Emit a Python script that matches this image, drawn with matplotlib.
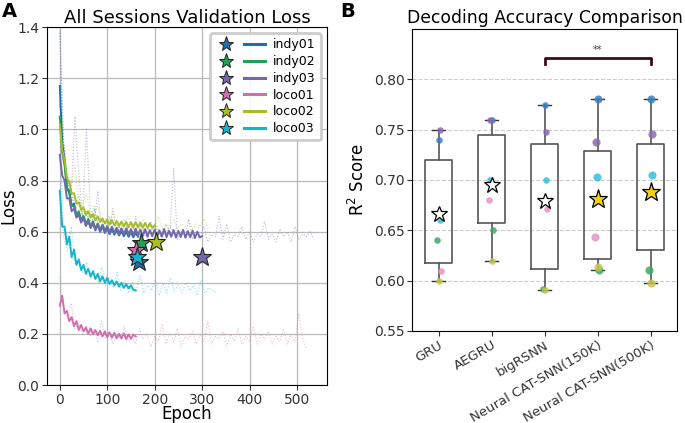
import numpy as np
import matplotlib
matplotlib.use("Agg")
import matplotlib.pyplot as plt
from matplotlib.lines import Line2D
from matplotlib.legend_handler import HandlerTuple

# ---------------- panel A data ----------------
sessions = ["indy01", "indy02", "indy03", "loco01", "loco02", "loco03"]
session_colors = ["#1f6fb0", "#22a055", "#7467ae", "#d06fad", "#a9bb25", "#14b5cc"]

# smoothed curves (epoch 0 .. best epoch, evenly spaced samples)
best_epoch = [165, 170, 300, 160, 200, 160]
indy01_fit = [1.17, 0.95, 0.88, 0.77, 0.76, 0.70, 0.71, 0.66, 0.675, 0.64, 0.66, 0.625,
              0.645, 0.615, 0.635, 0.605, 0.628, 0.600, 0.62, 0.595, 0.615, 0.59, 0.61,
              0.588, 0.605, 0.585, 0.602, 0.582, 0.60, 0.58, 0.598, 0.578, 0.595, 0.58]
indy02_fit = [1.05, 0.91, 0.86, 0.77, 0.75, 0.70, 0.70, 0.665, 0.68, 0.645, 0.66, 0.63,
              0.65, 0.62, 0.64, 0.612, 0.632, 0.607, 0.625, 0.603, 0.62, 0.60, 0.617,
              0.597, 0.613, 0.595, 0.61, 0.592, 0.608, 0.59, 0.605, 0.59, 0.603, 0.588, 0.60]
indy03_fit = [0.90, 0.82, 0.80, 0.73, 0.73, 0.68, 0.69, 0.655, 0.665, 0.635, 0.655, 0.622,
              0.642, 0.615, 0.635, 0.608, 0.628, 0.600, 0.625, 0.598, 0.62, 0.595, 0.618,
              0.592, 0.615, 0.59, 0.612, 0.588, 0.613, 0.586, 0.61, 0.585, 0.612, 0.584,
              0.608, 0.583, 0.61, 0.58, 0.606, 0.582, 0.608, 0.579, 0.605, 0.581, 0.61,
              0.578, 0.604, 0.58, 0.606, 0.577, 0.603, 0.579, 0.607, 0.576, 0.602, 0.578,
              0.604, 0.575, 0.60, 0.577, 0.582]
loco01_fit = [0.31, 0.35, 0.28, 0.29, 0.25, 0.265, 0.23, 0.25, 0.215, 0.235, 0.21, 0.225,
              0.20, 0.222, 0.198, 0.215, 0.195, 0.212, 0.19, 0.21, 0.188, 0.205, 0.185,
              0.204, 0.183, 0.20, 0.182, 0.202, 0.18, 0.198, 0.181, 0.197, 0.19]
loco02_fit = [1.02, 0.92, 0.88, 0.81, 0.795, 0.75, 0.75, 0.71, 0.715, 0.685, 0.695, 0.665,
              0.68, 0.655, 0.668, 0.645, 0.66, 0.638, 0.652, 0.632, 0.648, 0.628, 0.645,
              0.624, 0.642, 0.622, 0.64, 0.62, 0.638, 0.618, 0.637, 0.617, 0.636, 0.616,
              0.635, 0.615, 0.634, 0.615, 0.633, 0.614, 0.623]
loco03_fit = [0.76, 0.62, 0.62, 0.55, 0.58, 0.50, 0.53, 0.47, 0.49, 0.45, 0.47, 0.435,
              0.455, 0.425, 0.445, 0.415, 0.435, 0.405, 0.425, 0.40, 0.42, 0.395, 0.41,
              0.39, 0.405, 0.385, 0.40, 0.38, 0.395, 0.378, 0.39, 0.372, 0.37]

# raw (noisy) traces, epoch 0 .. last epoch, evenly spaced samples
last_epoch = [230, 240, 536, 520, 320, 330]
indy01_raw = [1.40, 0.92, 0.78, 0.74, 0.68, 0.72, 0.64, 0.66, 0.62, 0.69, 0.61, 0.63,
              0.60, 0.65, 0.59, 0.62, 0.60, 0.64, 0.58, 0.61, 0.59, 0.63, 0.58, 0.60,
              0.59, 0.62, 0.58, 0.60, 0.59]
indy02_raw = [1.10, 0.95, 0.80, 0.76, 0.70, 0.74, 0.66, 0.68, 0.64, 0.70, 0.62, 0.65,
              0.61, 0.66, 0.60, 0.63, 0.61, 0.65, 0.60, 0.62, 0.60, 0.64, 0.59, 0.61,
              0.60, 0.63, 0.59, 0.61, 0.60, 0.62, 0.60]
indy03_raw = [1.38, 0.95, 0.80, 0.74, 1.05, 0.83, 0.66, 1.00, 0.70, 0.62, 0.76, 0.61,
              0.64, 0.60, 0.69, 0.60, 0.63, 0.59, 0.62, 0.60, 0.66, 0.58, 0.61, 0.59,
              0.64, 0.58, 0.60, 0.57, 0.63, 0.59, 0.85, 0.57, 0.60, 0.58, 0.65, 0.57,
              0.60, 0.58, 0.62, 0.56, 0.59, 0.58, 0.66, 0.57, 0.63, 0.56, 0.59, 0.58,
              0.62, 0.57, 0.60, 0.56, 0.59, 0.58, 0.64, 0.57, 0.59, 0.56, 0.61, 0.58,
              0.60, 0.56, 0.62, 0.57, 0.59, 0.58, 0.60, 0.57]
loco01_raw = [0.42, 0.30, 0.26, 0.32, 0.22, 0.24, 0.20, 0.23, 0.19, 0.22, 0.17, 0.25,
              0.18, 0.21, 0.16, 0.20, 0.18, 0.23, 0.17, 0.19, 0.16, 0.22, 0.18, 0.20,
              0.15, 0.19, 0.17, 0.24, 0.16, 0.20, 0.17, 0.22, 0.15, 0.19, 0.18, 0.21,
              0.16, 0.20, 0.17, 0.25, 0.16, 0.19, 0.18, 0.21, 0.15, 0.20, 0.17, 0.22,
              0.16, 0.19, 0.17, 0.23, 0.16, 0.20, 0.18, 0.21, 0.16, 0.19, 0.17, 0.22,
              0.16, 0.20, 0.17, 0.28, 0.18, 0.14]
loco02_raw = [1.10, 0.95, 0.84, 0.78, 0.86, 0.72, 0.70, 0.75, 0.67, 0.66, 0.70, 0.64,
              0.65, 0.63, 0.67, 0.62, 0.64, 0.63, 0.66, 0.62, 0.64, 0.61, 0.65, 0.62,
              0.63, 0.62, 0.66, 0.61, 0.63, 0.62, 0.65, 0.61, 0.63, 0.62, 0.64, 0.61,
              0.63, 0.62, 0.65, 0.61, 0.62]
loco03_raw = [1.00, 0.58, 0.52, 0.62, 0.47, 0.50, 0.44, 0.48, 0.42, 0.45, 0.40, 0.46,
              0.39, 0.42, 0.38, 0.44, 0.37, 0.41, 0.36, 0.40, 0.37, 0.43, 0.36, 0.39,
              0.37, 0.41, 0.35, 0.40, 0.36, 0.42, 0.37, 0.39, 0.36, 0.40, 0.37, 0.39,
              0.35, 0.41, 0.36, 0.38, 0.37, 0.36]

fit_curves = [indy01_fit, indy02_fit, indy03_fit, loco01_fit, loco02_fit, loco03_fit]
raw_curves = [indy01_raw, indy02_raw, indy03_raw, loco01_raw, loco02_raw, loco03_raw]

# stars: best epoch / loss
star_epoch = [167, 172, 300, 160, 202, 162]
star_loss = [0.482, 0.554, 0.499, 0.530, 0.560, 0.502]

# ---------------- panel B data ----------------
models = ["GRU", "AEGRU", "bigRSNN", "Neural CAT-SNN(150K)", "Neural CAT-SNN(500K)"]
# per-session R^2 (order: indy01, indy02, indy03, loco01, loco02, loco03)
r2_gru = [0.740, 0.640, 0.750, 0.610, 0.600, 0.660]
r2_aegru = [0.760, 0.650, 0.760, 0.680, 0.620, 0.700]
r2_bigrsnn = [0.774, 0.592, 0.748, 0.671, 0.591, 0.700]
r2_cat150 = [0.780, 0.611, 0.738, 0.643, 0.614, 0.703]
r2_cat500 = [0.780, 0.611, 0.746, 0.688, 0.598, 0.705]
r2_all = [r2_gru, r2_aegru, r2_bigrsnn, r2_cat150, r2_cat500]
point_colors = ["#3b80c4", "#3fa862", "#8a6ab2", "#e592c3", "#c4c54a", "#35bfd8"]
star_fill = ["white", "white", "white", "#f7d000", "#f7d000"]

# ---------------- figure ----------------
fig = plt.figure(figsize=(6.85, 4.23), dpi=100)
axA = fig.add_axes([0.0686, 0.0898, 0.4085, 0.846])
axB = fig.add_axes([0.6015, 0.2175, 0.3870, 0.7140])

# panel A
for i in range(len(sessions)):
    raw = raw_curves[i]
    axA.plot(np.linspace(0, last_epoch[i], len(raw)), raw, color=session_colors[i],
             lw=0.8, ls=":", alpha=0.45, zorder=1)
for i in range(len(sessions)):
    fit = fit_curves[i]
    axA.plot(np.linspace(0, best_epoch[i], len(fit)), fit, color=session_colors[i],
             lw=1.4, zorder=2)
for i in range(len(sessions)):
    axA.plot(star_epoch[i], star_loss[i], marker="*", ms=14, color=session_colors[i],
             mec="#222222", mew=0.8, ls="none", zorder=5)

axA.set_ylim(0, 1.4)
axA.set_xlim(-27, 563)
axA.set_xticks([0, 100, 200, 300, 400, 500])
axA.set_yticks(np.arange(0, 1.41, 0.2))
axA.grid(True, color="#b8b8b8", lw=0.9)
axA.set_axisbelow(True)
axA.tick_params(labelsize=10, colors="#333333", pad=2)
axA.set_xlabel("Epoch", fontsize=12, labelpad=-1)
axA.set_ylabel("Loss", fontsize=12, labelpad=0)
axA.set_title("All Sessions Validation Loss", fontsize=13, pad=3)

handles = []
for c in session_colors:
    star = Line2D([], [], marker="*", ms=11, color=c, mec="#222222", mew=0.7, ls="none")
    line = Line2D([], [], color=c, lw=2.2)
    handles.append((star, line))
leg = axA.legend(handles, sessions, handler_map={tuple: HandlerTuple(ndivide=None, pad=0.6)},
                 loc="upper right", fontsize=9, handlelength=4.0, labelspacing=0.3,
                 borderpad=0.4, handletextpad=0.6, framealpha=0.9)
leg.get_frame().set_edgecolor("#c8c8c8")
leg.get_frame().set_linewidth(2)

# panel B
pos = np.arange(len(models))
axB.boxplot(r2_all, positions=pos, widths=0.5, whis=(0, 100), showfliers=False,
            boxprops=dict(color="#555555", lw=1.2),
            whiskerprops=dict(color="#555555", lw=1.2),
            capprops=dict(color="#333333", lw=1.0),
            medianprops=dict(lw=0), zorder=2)
jitter = [0.0, -0.03, 0.03, 0.04, 0.0, 0.02]
for j in range(len(models)):
    size = 22 if j < 3 else 34
    for k in range(len(sessions)):
        axB.scatter(pos[j] + jitter[k] * (1 if j % 2 == 0 else -1), r2_all[j][k],
                    s=size, color=point_colors[k], alpha=0.85, lw=0, zorder=3)
    axB.plot(pos[j], np.mean(r2_all[j]), marker="*", ms=12 if j < 3 else 14,
             color=star_fill[j], mec="black", mew=0.9, ls="none", zorder=4)

# significance bracket
axB.plot([2, 2, 4, 4], [0.8157, 0.8207, 0.8207, 0.8157], color="#3a0c10", lw=2, zorder=4)
axB.text(3, 0.8245, "**", ha="center", va="bottom", fontsize=7, color="#444444")

axB.set_xlim(-0.5, 4.5)
axB.set_ylim(0.55, 0.85)
axB.set_yticks([0.55, 0.60, 0.65, 0.70, 0.75, 0.80])
axB.set_yticklabels(["0.55", "0.60", "0.65", "0.70", "0.75", "0.80"])
axB.yaxis.grid(True, ls="--", color="#cccccc", lw=0.8)
axB.set_axisbelow(True)
axB.set_xticks(pos)
axB.set_xticklabels(models, rotation=30, ha="right", rotation_mode="anchor", fontsize=9.5)
axB.tick_params(labelsize=10, colors="#333333", pad=2)
axB.tick_params(axis="x", labelsize=9.5)
axB.set_ylabel("R$^2$ Score", fontsize=12)
axB.set_title("Decoding Accuracy Comparison", fontsize=12.4, pad=4)

fig.text(0.003, 0.995, "A", fontsize=14, fontweight="bold", va="top")
fig.text(0.497, 0.995, "B", fontsize=14, fontweight="bold", va="top")

fig.savefig("out.png", dpi=100)
